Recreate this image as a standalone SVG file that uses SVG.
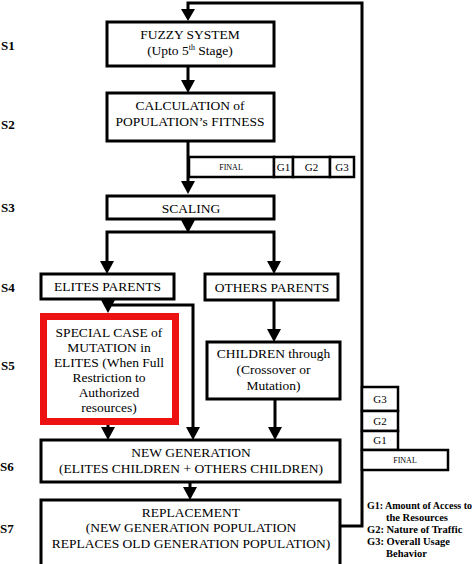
<svg xmlns="http://www.w3.org/2000/svg" width="474" height="564" viewBox="0 0 474 564">
<style>
.box{fill:#fff;stroke:#000;stroke-width:3}
.small{fill:#fff;stroke:#000;stroke-width:2.5}
.red{fill:#fff;stroke:#ee1111;stroke-width:7}
.t{font-family:"Liberation Serif","Times New Roman",serif;font-size:13.5px;fill:#000;text-anchor:middle}
.s{font-family:"Liberation Serif","Times New Roman",serif;font-size:13px;font-weight:bold;fill:#000}
.g{font-family:"Liberation Serif","Times New Roman",serif;font-size:11px;fill:#000;text-anchor:middle}
.f{font-family:"Liberation Serif","Times New Roman",serif;font-size:8px;fill:#000;text-anchor:middle}
.lg{font-family:"Liberation Serif","Times New Roman",serif;font-size:10.5px;font-weight:bold;fill:#000}
.c{fill:none;stroke:#000;stroke-width:3}
</style>
<rect width="474" height="564" fill="#fff"/>
<g id="stage-labels">
<text class="s" x="1" y="50">S1</text>
<text class="s" x="1" y="129">S2</text>
<text class="s" x="1" y="212">S3</text>
<text class="s" x="1" y="292">S4</text>
<text class="s" x="1" y="370">S5</text>
<text class="s" x="0" y="471">S6</text>
<text class="s" x="0" y="533">S7</text>
</g>
<g id="connectors">
<path class="c" d="M340,526 H362 V3 H188 V12"/>
<polygon points="181,9 195,9 188,21" fill="#000"/>
<path class="c" d="M188,66 V80"/><polygon points="181,80 195,80 188,93" fill="#000"/>
<path class="c" d="M188,141 V182"/><polygon points="181,181 195,181 188,194" fill="#000"/>
<path class="c" d="M188,219 V222"/><polygon points="181,220 195,220 188,233" fill="#000"/>
<path class="c" d="M107,262 V232 H274 V262"/>
<polygon points="100,261 114,261 107,274" fill="#000"/>
<polygon points="267,261 281,261 274,274" fill="#000"/>
<path class="c" d="M108,299 V302"/><polygon points="101,300 115,300 108,313" fill="#000"/>
<path class="c" d="M108,305 H193 V428"/><polygon points="186,427 200,427 193,440" fill="#000"/>
<path class="c" d="M108,425 V428"/><polygon points="101,427 115,427 108,440" fill="#000"/>
<path class="c" d="M274,300 V330"/><polygon points="267,329 281,329 274,342" fill="#000"/>
<path class="c" d="M275,399 V428"/><polygon points="268,427 282,427 275,440" fill="#000"/>
<path class="c" d="M190,482 V488"/><polygon points="183,487 197,487 190,500" fill="#000"/>
</g>
<g id="fuzzy">
<rect class="box" x="107" y="22" width="167" height="44"/>
<text class="t" x="190" y="39">FUZZY SYSTEM</text>
<text class="t" x="190" y="55">(Upto 5<tspan font-size="8" dy="-5">th</tspan><tspan dy="5"> Stage)</tspan></text>
</g>
<g id="calc">
<rect class="box" x="107" y="93" width="167" height="48"/>
<text class="t" x="190" y="110">CALCULATION of</text>
<text class="t" x="190" y="126">POPULATION’s FITNESS</text>
</g>
<g id="weights-top">
<rect class="small" x="189" y="157" width="85" height="20"/>
<rect class="small" x="274" y="157" width="19" height="20"/>
<rect class="small" x="293" y="157" width="37" height="20"/>
<rect class="small" x="330" y="157" width="24" height="20"/>
<text class="f" x="231" y="170">FINAL</text>
<text class="g" x="283.5" y="171">G1</text>
<text class="g" x="311.5" y="171">G2</text>
<text class="g" x="342" y="171">G3</text>
</g>
<g id="scaling">
<rect class="box" x="107" y="196" width="167" height="23"/>
<text class="t" x="191" y="213">SCALING</text>
</g>
<g id="elites">
<rect class="box" x="41" y="274" width="133" height="25"/>
<text class="t" x="107.5" y="291">ELITES PARENTS</text>
</g>
<g id="others">
<rect class="box" x="205" y="274" width="133" height="26"/>
<text class="t" x="272" y="292">OTHERS PARENTS</text>
</g>
<g id="special">
<rect class="red" x="43.5" y="316.5" width="132" height="105"/>
<text class="t" x="109" y="337">SPECIAL CASE of</text>
<text class="t" x="109" y="352">MUTATION in</text>
<text class="t" x="109" y="367">ELITES (When Full</text>
<text class="t" x="109" y="382">Restriction to</text>
<text class="t" x="109" y="397">Authorized</text>
<text class="t" x="109" y="412">resources)</text>
</g>
<g id="children">
<rect class="box" x="207" y="342" width="133" height="57"/>
<text class="t" x="273.5" y="358">CHILDREN through</text>
<text class="t" x="273.5" y="374">(Crossover or</text>
<text class="t" x="273.5" y="390">Mutation)</text>
</g>
<g id="newgen">
<rect class="box" x="41" y="440" width="299" height="42"/>
<text class="t" x="191" y="457">NEW GENERATION</text>
<text class="t" x="191" y="473">(ELITES CHILDREN + OTHERS CHILDREN)</text>
</g>
<g id="replacement">
<rect class="box" x="41" y="500" width="299" height="66"/>
<text class="t" x="191" y="517">REPLACEMENT</text>
<text class="t" x="191" y="532">(NEW GENERATION POPULATION</text>
<text class="t" x="191" y="548">REPLACES OLD GENERATION POPULATION)</text>
</g>
<g id="weights-right">
<rect class="small" x="362" y="387" width="36" height="24"/>
<rect class="small" x="362" y="411" width="36" height="20"/>
<rect class="small" x="362" y="431" width="36" height="19"/>
<rect class="small" x="362" y="450" width="86" height="20"/>
<text class="g" x="380" y="403">G3</text>
<text class="g" x="380" y="425">G2</text>
<text class="g" x="380" y="444">G1</text>
<text class="f" x="405" y="463">FINAL</text>
</g>
<g id="legend">
<text class="lg" x="367" y="509" textLength="105" lengthAdjust="spacingAndGlyphs">G1: Amount of Access to</text>
<text class="lg" x="386" y="521">the Resources</text>
<text class="lg" x="367" y="533">G2: Nature of Traffic</text>
<text class="lg" x="367" y="545">G3: Overall Usage</text>
<text class="lg" x="386" y="557">Behavior</text>
</g>
</svg>
